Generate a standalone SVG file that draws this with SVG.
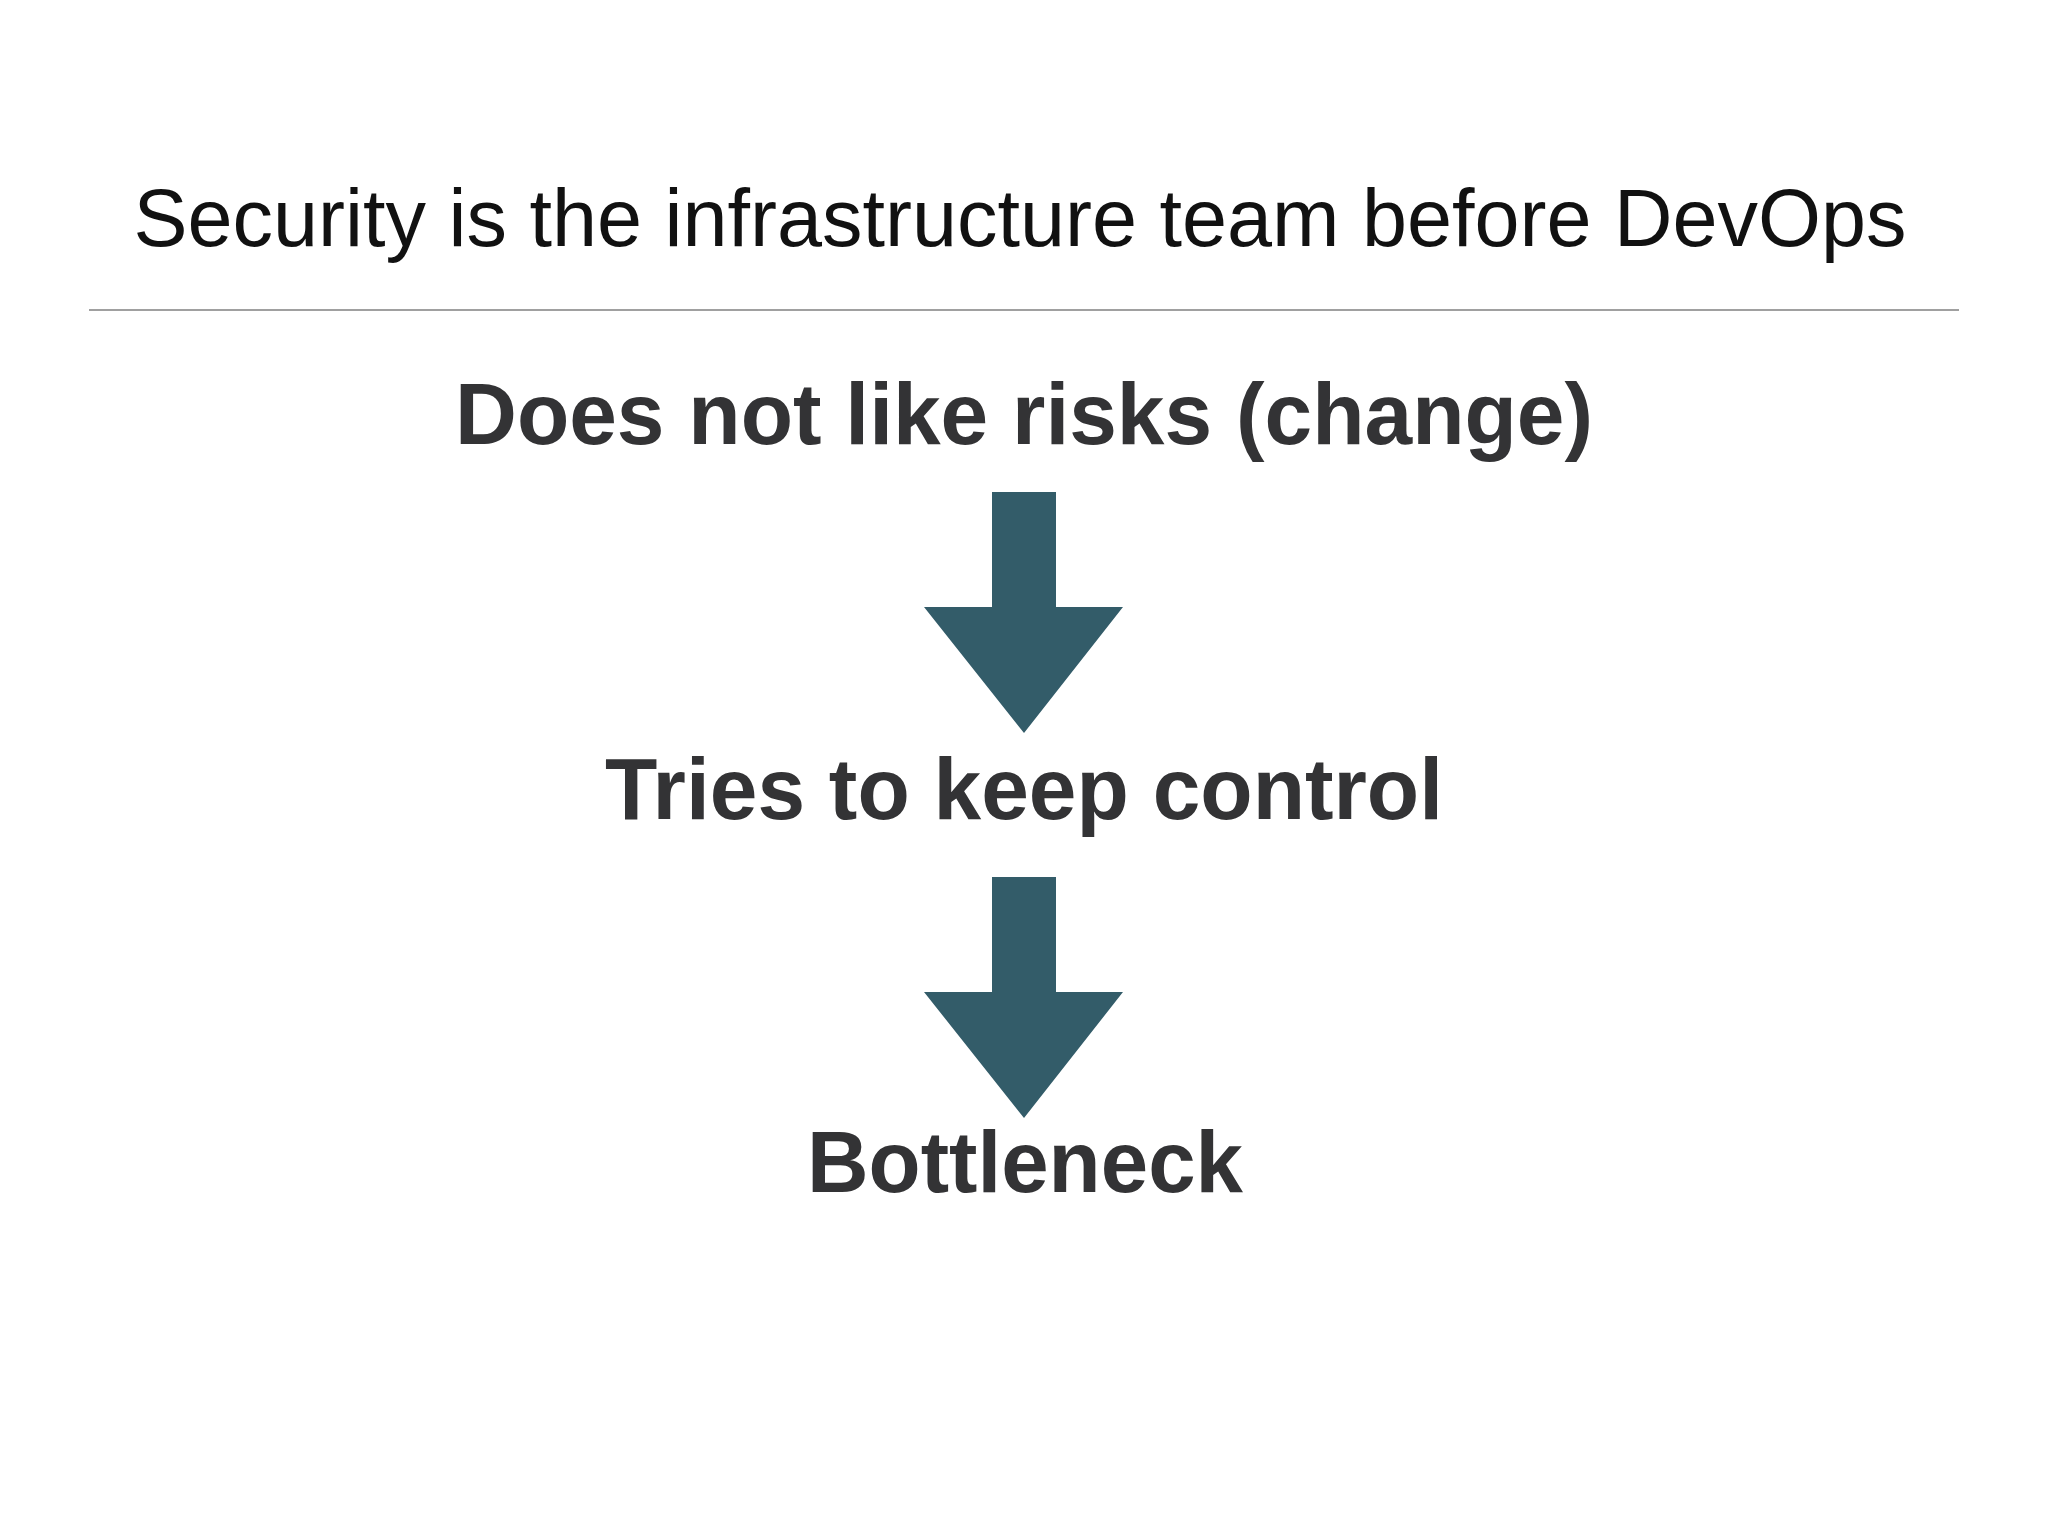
<svg xmlns="http://www.w3.org/2000/svg" width="2048" height="1536" viewBox="0 0 2048 1536">
<style>
.title{font-family:"Liberation Sans",Arial,sans-serif;font-size:82px;fill:#111;}
.step{font-family:"Liberation Sans",Arial,sans-serif;font-weight:bold;font-size:88px;fill:#333335;}
.arrow{fill:#335c69;}
</style>
<rect width="2048" height="1536" fill="#ffffff"/>
<g id="header">
<text class="title" x="1020" y="246" text-anchor="middle" textLength="1773" lengthAdjust="spacingAndGlyphs">Security is the infrastructure team before DevOps</text>
<line x1="89" y1="310" x2="1959" y2="310" stroke="#a0a0a0" stroke-width="2"/>
</g>
<g id="node-risks"><text class="step" x="1024" y="444" text-anchor="middle" textLength="1138" lengthAdjust="spacingAndGlyphs">Does not like risks (change)</text></g>
<g id="node-control"><text class="step" x="1024" y="819" text-anchor="middle" textLength="838" lengthAdjust="spacingAndGlyphs">Tries to keep control</text></g>
<g id="node-bottleneck"><text class="step" x="1025" y="1192" text-anchor="middle" textLength="436" lengthAdjust="spacingAndGlyphs">Bottleneck</text></g>
<g id="connectors">
<polygon class="arrow" points="992,492 1056,492 1056,607 1123,607 1024,733 924,607 992,607"/>
<polygon class="arrow" points="992,877 1056,877 1056,992 1123,992 1024,1118 924,992 992,992"/>
</g>
</svg>
